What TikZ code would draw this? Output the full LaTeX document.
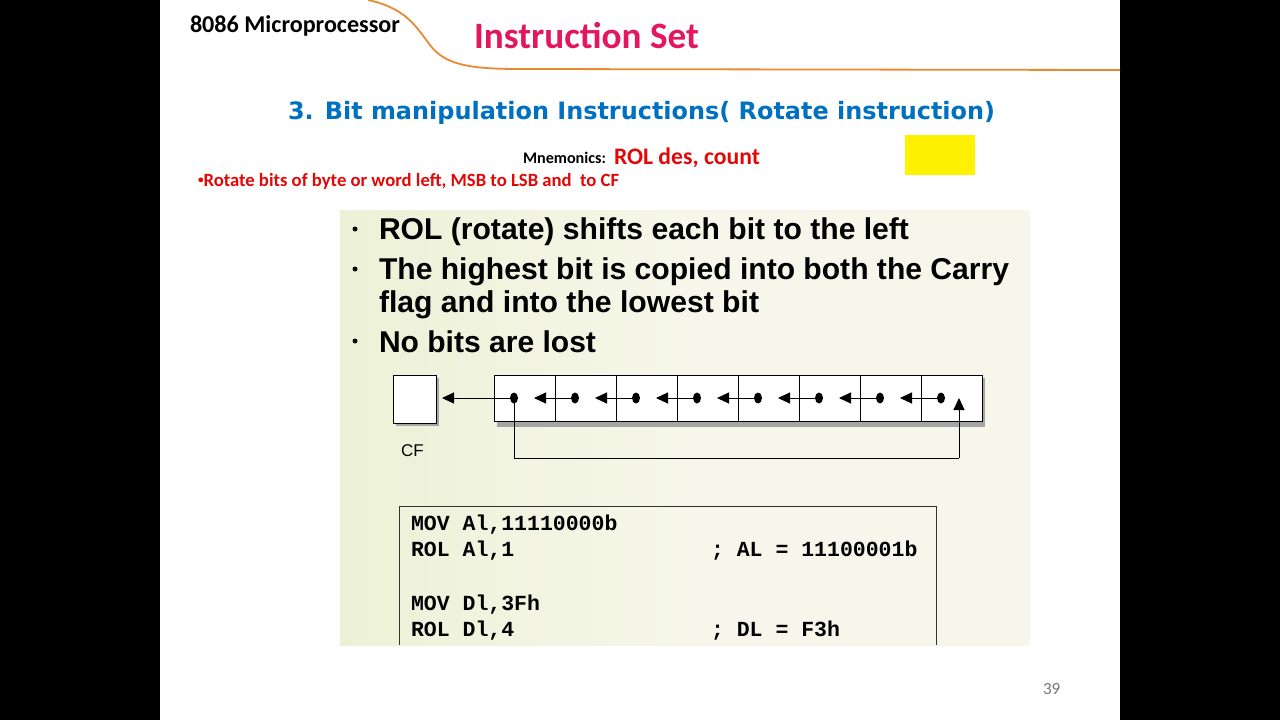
\documentclass[tikz,border=0pt]{standalone}
\usepackage{fontspec}
\setmainfont{Liberation Sans}
\newfontfamily\calfont{Carlito}
\newfontfamily\dvsfont{DejaVu Sans}
\newfontfamily\courfont{Liberation Mono}
\usetikzlibrary{arrows.meta}
\definecolor{orangeline}{RGB}{232,138,52}
\definecolor{headpink}{RGB}{228,22,92}
\definecolor{titleblue}{RGB}{0,112,192}
\definecolor{redtext}{RGB}{226,8,8}
\definecolor{panelbg}{RGB}{246,247,234}
\definecolor{panelgreen}{RGB}{236,241,214}
\definecolor{shadowgray}{RGB}{165,165,165}
\definecolor{pagegray}{RGB}{120,120,120}
\begin{document}
\begin{tikzpicture}[x=1pt,y=-1pt,
  txt/.style={inner sep=0pt,outer sep=0pt,anchor=base west},
  bul/.style={txt,font=\bfseries\fontsize{26}{30}\selectfont},
  bulletdot/.style={circle,fill=black,inner sep=0pt,minimum size=5pt},
  code/.style={txt,font=\courfont\bfseries\fontsize{21.5}{24}\selectfont},
  wire/.style={line width=1pt,black},
  tip/.style={wire,-{Triangle[length=12pt,width=11pt]}},
  cell/.style={draw=black,line width=1pt,fill=white}]
\useasboundingbox (0,0) rectangle (1280,720);
\fill[black] (0,0) rectangle (1280,720);
\fill[white] (160,0) rectangle (1120,720);

% header
\draw[orangeline,line width=1.8pt] (368,0) .. controls (405,8) and (415,25) .. (430,45)
   .. controls (445,65) and (470,69) .. (520,69) -- (1120,70);
\node[txt,font=\calfont\bfseries\fontsize{20}{24}\selectfont] (hdr) at (190,32)
   {\resizebox{210pt}{!}{8086 Microprocessor}};
\node[txt,text=headpink,font=\calfont\bfseries\fontsize{30}{34}\selectfont] (iset) at (474,48)
   {\resizebox{225pt}{!}{Instruction Set}};

% title
\node[txt,text=titleblue,font=\dvsfont\bfseries\fontsize{22}{26}\selectfont] (title) at (288,119)
   {\resizebox{707pt}{!}{3. Bit manipulation Instructions( Rotate instruction)}};

\node[txt,font=\calfont\bfseries\fontsize{14}{16}\selectfont] (mn) at (523,163)
   {\resizebox{83pt}{!}{Mnemonics:}};
\node[txt,text=redtext,font=\calfont\bfseries\fontsize{21}{24}\selectfont] (rol) at (614,164)
   {\resizebox{146pt}{!}{ROL des, count}};
\fill[yellow] (905,135) rectangle (975,175);
\node[txt,text=redtext,font=\calfont\bfseries\fontsize{15}{18}\selectfont] (rot) at (198,186)
   {\resizebox{421pt}{!}{{\fontsize{9}{9}\selectfont\raisebox{2pt}{•}}Rotate bits of byte or word left, MSB to LSB and\ \ to CF}};

% picture panel
\shade[left color=panelgreen,right color=panelbg,middle color=panelbg] (340,210) rectangle (1030,645);

\node[bulletdot] (b1) at (355,229) {};
\node[bul] (t1) at (379,239) {\resizebox{530pt}{!}{ROL (rotate) shifts each bit to the left}};
\node[bulletdot] (b2) at (355,269) {};
\node[bul] (t2) at (379,279) {\resizebox{630pt}{!}{The highest bit is copied into both the Carry}};
\node[bul] (t3) at (379,312) {\resizebox{380pt}{!}{flag and into the lowest bit}};
\node[bulletdot] (b4) at (355,341) {};
\node[bul] (t4) at (379,352) {\resizebox{217pt}{!}{No bits are lost}};

% CF box
\fill[shadowgray] (396,378) rectangle (439,426);
\node[cell,minimum width=43pt,minimum height=48pt,inner sep=0pt,anchor=north west] (cf) at (393,375) {};
\node[txt,font=\fontsize{17}{20}\selectfont] (cflab) at (401,456) {CF};

% register
\fill[shadowgray] (497,378) rectangle (985,427);
\foreach \i in {1,...,8}{
  \pgfmathsetmacro{\xl}{494+61*(\i-1)}
  \node[cell,minimum width=61pt,minimum height=46pt,inner sep=0pt,anchor=north west] (c\i) at (\xl,375) {};
  \coordinate (d\i) at (\xl+20,398);
  \coordinate (a\i) at (\xl+40,398);
}
\coordinate (cftip) at (442,398);
\draw[tip] (d1) -- (cftip);
\foreach \i [evaluate=\i as \j using int(\i-1)] in {2,...,8}{
  \draw[tip] (d\i) -- (a\j);
}
\foreach \i in {1,...,8}{ \fill (d\i) ellipse (4pt and 5.5pt); }
\coordinate (loopA) at (514,458);
\coordinate (loopB) at (959,458);
\coordinate (lsbtip) at (959,398);
\draw[wire] (d1) -- (loopA) -- (loopB);
\draw[tip] (loopB) -- (lsbtip);

% code box
\draw[line width=0.8pt,black!80] (399,645) -- (399,506) -- (936,506) -- (936,645);
\node[code] (l1) at (411,530) {MOV Al,11110000b};
\node[code] (l2) at (411,556) {ROL Al,1};
\node[code] (l2c) at (711,556) {; AL = 11100001b};
\node[code] (l3) at (411,610) {MOV Dl,3Fh};
\node[code] (l4) at (411,636) {ROL Dl,4};
\node[code] (l4c) at (711,636) {; DL = F3h};

% page number
\node[txt,text=pagegray,font=\calfont\fontsize{17}{20}\selectfont] (pg) at (1043,694) {39};
\end{tikzpicture}
\end{document}
